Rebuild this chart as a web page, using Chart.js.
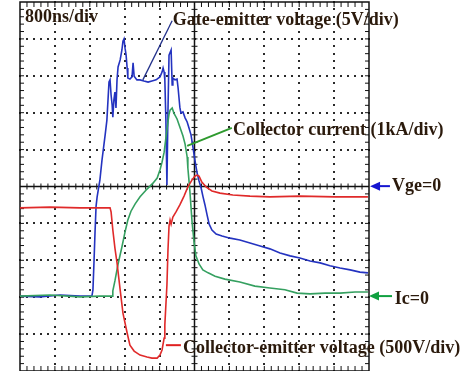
<!DOCTYPE html>
<html><head><meta charset="utf-8">
<script src="https://cdn.jsdelivr.net/npm/chart.js@4.4.1/dist/chart.umd.min.js"></script>
<style>html,body{margin:0;padding:0;background:#fff;overflow:hidden}#wrap{width:474px;height:371px;position:relative}</style>
</head><body><div id="wrap"><canvas id="c"></canvas></div>
<script>
// Oscilloscope traces in divisions
// x: time in divisions (800 ns/div), 0..10 ; y: divisions from screen centre, -5..5
const vgeTime  = [0,0.57,1.15,1.72,2.06,2.09,2.12,2.15,2.18,2.21,2.29,2.35,2.44,2.49,2.55,2.58,2.61,2.64,2.66,2.69,2.72,2.75,2.78,2.81,2.87,2.92,2.95,2.98,3.01,3.04,3.07,3.09,3.15,3.21,3.24,3.27,3.35,3.44,3.55,3.67,3.78,3.90,4.01,4.07,4.10,4.13,4.15,4.18,4.21,4.24,4.27,4.33,4.36,4.38,4.44,4.50,4.53,4.58,4.61,4.67,4.73,4.79,4.84,4.90,4.96,5.01,5.07,5.13,5.19,5.24,5.30,5.36,5.42,5.50,5.62,5.79,6.02,6.30,6.59,6.88,7.16,7.45,7.74,8.02,8.31,8.60,8.88,9.17,9.46,9.74,9.97];
const vgeValue = [-2.97,-2.99,-2.94,-2.97,-2.97,-2.80,-2.05,-1.23,-0.53,-0.28,0.18,0.72,1.40,1.80,2.83,2.89,2.48,2.21,1.88,2.34,2.56,2.13,2.89,3.24,3.43,3.70,3.94,4.00,3.75,3.56,3.21,2.94,2.91,2.97,3.35,2.99,2.89,2.89,2.86,2.83,2.86,2.89,2.97,3.10,3.21,3.10,2.89,1.80,0.04,2.07,3.56,3.70,2.75,2.94,2.89,2.91,2.67,2.15,1.99,2.02,1.86,1.75,1.59,1.40,1.04,0.72,0.39,0.15,-0.04,-0.26,-0.50,-0.77,-1.02,-1.18,-1.29,-1.34,-1.40,-1.45,-1.53,-1.61,-1.69,-1.80,-1.88,-1.94,-2.02,-2.07,-2.15,-2.21,-2.26,-2.32,-2.34];

const icTime  = [0,0.86,1.72,2.29,2.64,2.66,2.72,2.81,2.92,3.01,3.09,3.18,3.30,3.44,3.64,3.81,3.93,4.01,4.07,4.13,4.18,4.24,4.27,4.30,4.36,4.41,4.50,4.58,4.67,4.73,4.79,4.81,4.84,4.87,4.90,4.93,4.99,5.04,5.13,5.24,5.39,5.59,5.87,6.30,6.73,7.16,7.59,7.94,8.31,8.74,9.17,9.60,9.97];
const icValue = [-2.97,-2.94,-2.99,-2.97,-2.97,-2.83,-2.56,-2.10,-1.64,-1.23,-0.91,-0.67,-0.47,-0.28,-0.07,0.09,0.23,0.45,0.66,0.93,1.31,1.75,1.96,2.07,2.13,1.99,1.83,1.61,1.37,1.15,0.80,0.50,0.18,-0.15,-0.56,-0.96,-1.53,-1.88,-2.10,-2.26,-2.34,-2.43,-2.51,-2.59,-2.70,-2.75,-2.80,-2.89,-2.91,-2.89,-2.89,-2.86,-2.86];

const vceTime  = [0,0.86,1.72,2.58,2.61,2.66,2.72,2.78,2.87,2.95,3.07,3.15,3.27,3.44,3.64,3.78,3.93,4.01,4.07,4.13,4.15,4.18,4.21,4.24,4.27,4.30,4.33,4.38,4.47,4.58,4.70,4.81,4.93,5.01,5.07,5.13,5.21,5.33,5.50,5.73,6.10,6.59,7.16,8.02,9.03,9.97];
const vceValue = [-0.58,-0.56,-0.58,-0.58,-0.69,-1.18,-1.67,-2.07,-2.80,-3.43,-3.97,-4.30,-4.46,-4.57,-4.62,-4.65,-4.65,-4.57,-4.43,-4.11,-3.75,-3.21,-2.67,-1.72,-1.07,-0.91,-1.02,-0.83,-0.69,-0.50,-0.26,-0.01,0.18,0.28,0.31,0.28,0.12,-0.01,-0.12,-0.18,-0.23,-0.26,-0.28,-0.26,-0.28,-0.28];

const traceNames = ['Gate-emitter voltage', 'Collector current', 'Collector-emitter voltage'];

// annotation layout (positions in screen divisions)
const TEXT_COLOR = '#2b1a0c';
const FONT = 'bold 18px "Liberation Serif", "Times New Roman", serif';
const labels = [
  {text: '800ns/div', x: 0.14, y: 4.46},
  {text: 'Gate-emitter voltage (5V/div)', x: 4.38, y: 4.38},
  {text: 'Collector current (1kA/div)', x: 6.10, y: 1.40},
  {text: 'Vge=0', x: 10.66, y: -0.12},
  {text: 'Ic=0', x: 10.74, y: -3.18},
  {text: 'Collector-emitter voltage (500V/div)', x: 4.67, y: -4.51}
];
const leaders = [
  {from: [4.36, 4.49], to: [3.52, 2.89], color: '#22308a', width: 1.3},
  {from: [4.79, 1.10], to: [6.07, 1.59], color: '#2e9a2e', width: 2},
  {from: [4.18, -4.30], to: [4.61, -4.30], color: '#e02020', width: 2}
];
const arrows = [
  {tip: [10.03, 0.01], tail: [10.60, 0.01], color: '#1414d0'},
  {tip: [10.00, -2.97], tail: [10.66, -2.97], color: '#10a040'}
];

const toPts = (t, v) => t.map((x, i) => ({x, y: v[i]}));

const scopePlugin = {
  id: 'scope',
  beforeDatasetsDraw(chart) {
    const {ctx, chartArea: a, scales: {x, y}} = chart;
    ctx.save();
    ctx.fillStyle = '#2a2a2a';
    for (let i = 1; i < 10; i++) {
      if (i === 5) continue;
      const px = Math.round(x.getPixelForValue(i));
      for (let k = 0; k <= 50; k++) {
        const py = Math.round(y.getPixelForValue(-5 + k * 0.2));
        ctx.fillRect(px - 1, py - 1, 2, 2);
      }
    }
    for (let j = -4; j <= 4; j++) {
      if (j === 0) continue;
      const py = Math.round(y.getPixelForValue(j));
      for (let k = 0; k <= 50; k++) {
        const px = Math.round(x.getPixelForValue(k * 0.2));
        ctx.fillRect(px - 1, py - 1, 2, 2);
      }
    }
    ctx.strokeStyle = '#111';
    ctx.lineWidth = 1.5;
    const cx = x.getPixelForValue(5), cy = y.getPixelForValue(0);
    ctx.beginPath();
    ctx.rect(a.left, a.top, a.right - a.left, a.bottom - a.top);
    ctx.moveTo(cx, a.top); ctx.lineTo(cx, a.bottom);
    ctx.moveTo(a.left, cy); ctx.lineTo(a.right, cy);
    ctx.stroke();
    ctx.lineWidth = 1;
    ctx.beginPath();
    for (let k = 1; k < 50; k++) {
      const px = x.getPixelForValue(k * 0.2);
      const py = y.getPixelForValue(-5 + k * 0.2);
      ctx.moveTo(px, cy - 3); ctx.lineTo(px, cy + 3);
      ctx.moveTo(cx - 3, py); ctx.lineTo(cx + 3, py);
      ctx.moveTo(px, a.top); ctx.lineTo(px, a.top + 5);
      ctx.moveTo(px, a.bottom); ctx.lineTo(px, a.bottom - 5);
      ctx.moveTo(a.left, py); ctx.lineTo(a.left + 4, py);
      ctx.moveTo(a.right, py); ctx.lineTo(a.right - 4, py);
    }
    ctx.stroke();
    ctx.restore();
  },
  afterDraw(chart) {
    const {ctx, scales: {x, y}} = chart;
    const P = (p) => [x.getPixelForValue(p[0]), y.getPixelForValue(p[1])];
    ctx.save();
    leaders.forEach(l => {
      const f = P(l.from), t = P(l.to);
      ctx.strokeStyle = l.color; ctx.lineWidth = l.width;
      ctx.beginPath(); ctx.moveTo(f[0], f[1]); ctx.lineTo(t[0], t[1]); ctx.stroke();
    });
    arrows.forEach(ar => {
      const tip = P(ar.tip), tail = P(ar.tail);
      ctx.strokeStyle = ar.color; ctx.fillStyle = ar.color; ctx.lineWidth = 2;
      ctx.beginPath(); ctx.moveTo(tip[0] + 6, tip[1]); ctx.lineTo(tail[0], tail[1]); ctx.stroke();
      ctx.beginPath(); ctx.moveTo(tip[0], tip[1]); ctx.lineTo(tip[0] + 10, tip[1] - 4.5); ctx.lineTo(tip[0] + 10, tip[1] + 4.5); ctx.closePath(); ctx.fill();
    });
    ctx.font = FONT;
    ctx.fillStyle = TEXT_COLOR;
    ctx.textBaseline = 'alphabetic';
    ctx.textAlign = 'left';
    labels.forEach(lb => { const p = P([lb.x, lb.y]); ctx.fillText(lb.text, p[0], p[1]); });
    ctx.restore();
  }
};

new Chart(document.getElementById('c'), {
  type: 'scatter',
  data: {
    datasets: [
      {label: traceNames[2], data: toPts(vceTime, vceValue), borderColor: '#e02a2a'},
      {label: traceNames[1], data: toPts(icTime, icValue), borderColor: '#35a060'},
      {label: traceNames[0], data: toPts(vgeTime, vgeValue), borderColor: '#2433c0'}
    ].map(d => Object.assign(d, {showLine: true, pointRadius: 0, borderWidth: 1.6, tension: 0, fill: false}))
  },
  options: {
    responsive: true,
    maintainAspectRatio: false,
    animation: false,
    events: [],
    layout: {padding: {left: 20, right: 105, top: 2, bottom: 0}},
    plugins: {legend: {display: false}, tooltip: {enabled: false}, title: {display: false}},
    scales: {
      x: {type: 'linear', min: 0, max: 10, display: false},
      y: {type: 'linear', min: -5, max: 5, display: false}
    }
  },
  plugins: [scopePlugin]
});
</script>
</body></html>
